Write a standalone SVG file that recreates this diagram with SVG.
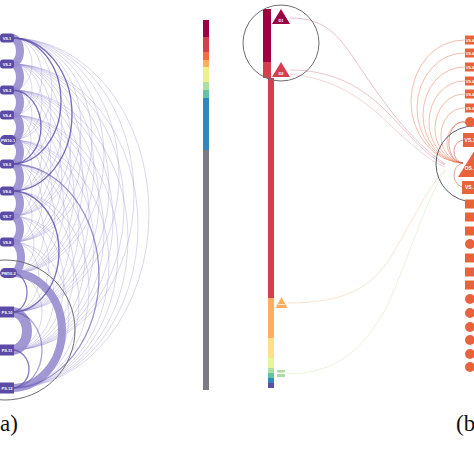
<svg xmlns="http://www.w3.org/2000/svg" width="474" height="474" viewBox="0 0 474 474">
<style>
.bg{fill:#fff}
.ln{fill:#5b4ba5}
.thin{fill:none;stroke:#8d84c8;stroke-opacity:.4;stroke-width:.8}
.thick{fill:none;stroke:#978dcf;stroke-opacity:.9;stroke-width:8}
.dark{fill:none;stroke:#5b4ba5;stroke-opacity:.75;stroke-width:1.3}
.lbl{font-family:"Liberation Sans",Arial,sans-serif;font-size:4px;font-weight:bold;fill:#fff;text-anchor:middle}
.lens{fill:none;stroke:#6e6e72;stroke-width:1}
.rn{fill:#e8633b}
.rarc{fill:none;stroke:#e98a6c;stroke-opacity:.7;stroke-width:.8}
.rdark{fill:none;stroke:#c84a3a;stroke-opacity:.6;stroke-width:.9}
.flow{fill:none;stroke-width:.9}
.cap{font-family:"Liberation Serif","Times New Roman",serif;font-size:23px;fill:#111}
</style>
<rect class="bg" width="474" height="474"/>

<g id="connectors">
 <g id="left-arcs-thin">
  <path class="thin" d="M12 38A10 13 0 0 1 12 64"/>
  <path class="thin" d="M12 38A20 26 0 0 1 12 90"/>
  <path class="thin" d="M12 38A30 38.5 0 0 1 12 115"/>
  <path class="thin" d="M12 38A40 51 0 0 1 12 140"/>
  <path class="thin" d="M12 38A49 63 0 0 1 12 164"/>
  <path class="thin" d="M12 38A60 76.5 0 0 1 12 191"/>
  <path class="thin" d="M12 38A69 89 0 0 1 12 216"/>
  <path class="thin" d="M12 38A80 102 0 0 1 12 242"/>
  <path class="thin" d="M12 38A92 117.5 0 0 1 12 273"/>
  <path class="thin" d="M12 38A107 137 0 0 1 12 312"/>
  <path class="thin" d="M12 38A122 156 0 0 1 12 350"/>
  <path class="thin" d="M12 38A137 175 0 0 1 12 388"/>
  <path class="thin" d="M12 64A10 13 0 0 1 12 90"/>
  <path class="thin" d="M12 64A20 25.5 0 0 1 12 115"/>
  <path class="thin" d="M12 64A30 38 0 0 1 12 140"/>
  <path class="thin" d="M12 64A39 50 0 0 1 12 164"/>
  <path class="thin" d="M12 64A50 63.5 0 0 1 12 191"/>
  <path class="thin" d="M12 64A59 76 0 0 1 12 216"/>
  <path class="thin" d="M12 64A69 89 0 0 1 12 242"/>
  <path class="thin" d="M12 64A82 104.5 0 0 1 12 273"/>
  <path class="thin" d="M12 64A97 124 0 0 1 12 312"/>
  <path class="thin" d="M12 64A112 143 0 0 1 12 350"/>
  <path class="thin" d="M12 64A126 162 0 0 1 12 388"/>
  <path class="thin" d="M12 90A10 12.5 0 0 1 12 115"/>
  <path class="thin" d="M12 90A20 25 0 0 1 12 140"/>
  <path class="thin" d="M12 90A29 37 0 0 1 12 164"/>
  <path class="thin" d="M12 90A39 50.5 0 0 1 12 191"/>
  <path class="thin" d="M12 90A49 63 0 0 1 12 216"/>
  <path class="thin" d="M12 90A59 76 0 0 1 12 242"/>
  <path class="thin" d="M12 90A71 91.5 0 0 1 12 273"/>
  <path class="thin" d="M12 90A87 111 0 0 1 12 312"/>
  <path class="thin" d="M12 90A101 130 0 0 1 12 350"/>
  <path class="thin" d="M12 90A116 149 0 0 1 12 388"/>
  <path class="thin" d="M12 115A10 12.5 0 0 1 12 140"/>
  <path class="thin" d="M12 115A19 24.5 0 0 1 12 164"/>
  <path class="thin" d="M12 115A30 38 0 0 1 12 191"/>
  <path class="thin" d="M12 115A39 50.5 0 0 1 12 216"/>
  <path class="thin" d="M12 115A50 63.5 0 0 1 12 242"/>
  <path class="thin" d="M12 115A62 79 0 0 1 12 273"/>
  <path class="thin" d="M12 115A77 98.5 0 0 1 12 312"/>
  <path class="thin" d="M12 115A92 117.5 0 0 1 12 350"/>
  <path class="thin" d="M12 115A106 136.5 0 0 1 12 388"/>
  <path class="thin" d="M12 140A9 12 0 0 1 12 164"/>
  <path class="thin" d="M12 140A20 25.5 0 0 1 12 191"/>
  <path class="thin" d="M12 140A30 38 0 0 1 12 216"/>
  <path class="thin" d="M12 140A40 51 0 0 1 12 242"/>
  <path class="thin" d="M12 140A52 66.5 0 0 1 12 273"/>
  <path class="thin" d="M12 140A67 86 0 0 1 12 312"/>
  <path class="thin" d="M12 140A82 105 0 0 1 12 350"/>
  <path class="thin" d="M12 140A97 124 0 0 1 12 388"/>
  <path class="thin" d="M12 164A11 13.5 0 0 1 12 191"/>
  <path class="thin" d="M12 164A20 26 0 0 1 12 216"/>
  <path class="thin" d="M12 164A30 39 0 0 1 12 242"/>
  <path class="thin" d="M12 164A43 54.5 0 0 1 12 273"/>
  <path class="thin" d="M12 164A58 74 0 0 1 12 312"/>
  <path class="thin" d="M12 164A73 93 0 0 1 12 350"/>
  <path class="thin" d="M12 164A87 112 0 0 1 12 388"/>
  <path class="thin" d="M12 191A10 12.5 0 0 1 12 216"/>
  <path class="thin" d="M12 191A20 25.5 0 0 1 12 242"/>
  <path class="thin" d="M12 191A32 41 0 0 1 12 273"/>
  <path class="thin" d="M12 191A47 60.5 0 0 1 12 312"/>
  <path class="thin" d="M12 191A62 79.5 0 0 1 12 350"/>
  <path class="thin" d="M12 191A77 98.5 0 0 1 12 388"/>
  <path class="thin" d="M12 216A10 13 0 0 1 12 242"/>
  <path class="thin" d="M12 216A22 28.5 0 0 1 12 273"/>
  <path class="thin" d="M12 216A37 48 0 0 1 12 312"/>
  <path class="thin" d="M12 216A52 67 0 0 1 12 350"/>
  <path class="thin" d="M12 216A67 86 0 0 1 12 388"/>
  <path class="thin" d="M12 242A12 15.5 0 0 1 12 273"/>
  <path class="thin" d="M12 242A27 35 0 0 1 12 312"/>
  <path class="thin" d="M12 242A42 54 0 0 1 12 350"/>
  <path class="thin" d="M12 242A57 73 0 0 1 12 388"/>
  <path class="thin" d="M12 273A30 38.5 0 0 1 12 350"/>
 </g>
 <g id="left-arcs-thick">
  <path class="thick" d="M12 38A8 13 0 0 1 12 64"/>
  <path class="thick" d="M12 64A8 13 0 0 1 12 90"/>
  <path class="thick" d="M12 90A8 12.5 0 0 1 12 115"/>
  <path class="thick" d="M12 115A8 12.5 0 0 1 12 140"/>
  <path class="thick" d="M12 140A8 12 0 0 1 12 164"/>
  <path class="thick" d="M12 164A8 13.5 0 0 1 12 191"/>
  <path class="thick" d="M12 191A8 12.5 0 0 1 12 216"/>
  <path class="thick" d="M12 216A8 13 0 0 1 12 242"/>
  <path class="thick" d="M12 242A9 15.5 0 0 1 12 273"/>
  <path class="thick" d="M12 312A15 19 0 0 1 12 350" style="stroke-width:10"/>
  <path class="thick" d="M12 273A50 57.5 0 0 1 12 388" style="stroke-width:8"/>
 </g>
 <g id="left-arcs-dark">
  <path class="dark" d="M12 38A49 63 0 0 1 12 164"/>
  <path class="dark" d="M12 38A60 76.5 0 0 1 12 191"/>
  <path class="dark" d="M12 90A29 37 0 0 1 12 164"/>
  <path class="dark" d="M12 191A47 60.5 0 0 1 12 312"/>
  <path class="dark" d="M12 164A87 112 0 0 1 12 388" style="stroke-opacity:.5"/>
  <path class="dark" d="M12 273A15 19.5 0 0 1 12 312"/>
  <path class="dark" d="M12 350A17 19 0 0 1 12 388"/>
  <path class="dark" d="M12 312A30 38 0 0 1 12 388" style="stroke-opacity:.5"/>
 </g>
 <g id="flows-b">
  <path class="flow" stroke="#c98595" stroke-opacity=".55" d="M290 18C325 18 338 35 355 60C385 105 410 140 445 164"/>
  <path class="flow" stroke="#d88a92" stroke-opacity=".55" d="M290 70C330 70 360 85 385 110C410 135 425 155 445 165"/>
  <path class="flow" stroke="#d88a92" stroke-opacity=".4" d="M290 74C330 78 360 95 390 125C412 145 428 160 445 167"/>
  <path class="flow" stroke="#f2c49a" stroke-opacity=".5" d="M288 303C350 303 375 285 395 250C415 215 430 185 445 170"/>
  <path class="flow" stroke="#cfe3b6" stroke-opacity=".5" d="M286 374C340 374 365 345 385 310C405 270 425 200 445 172"/>
 </g>
 <g id="right-arcs">
  <path class="rarc" d="M465 40A53 61.5 0 0 0 463 163"/>
  <path class="rarc" d="M465 53A47 55 0 0 0 463 163"/>
  <path class="rarc" d="M465 67A41 48 0 0 0 463 163"/>
  <path class="rarc" d="M465 81A35 41 0 0 0 463 163"/>
  <path class="rarc" d="M465 94A29 34.5 0 0 0 463 163"/>
  <path class="rarc" d="M465 108A23 27.5 0 0 0 463 163"/>
  <path class="rarc" d="M465 122A17 20.5 0 0 0 463 163"/>
  <path class="rdark" d="M465 140A10 11.5 0 0 0 463 163"/>
  <path class="rdark" d="M465 122A14 20.5 0 0 0 461 163"/>
  <path class="rdark" d="M463 163A10 12 0 0 0 465 187"/>
 </g>
</g>

<g id="lens-a"><circle class="lens" cx="5" cy="330" r="70"/></g>

<g id="left-nodes">
 <g id="VS1"><rect class="ln" x="0" y="33.5" width="14" height="9" rx="3"/><text class="lbl" x="7" y="39.5">VS.1</text></g>
 <g id="VS2"><rect class="ln" x="0" y="59.5" width="14" height="9" rx="3"/><text class="lbl" x="7" y="65.5">VS.2</text></g>
 <g id="VS3"><rect class="ln" x="0" y="85.5" width="14" height="9" rx="3"/><text class="lbl" x="7" y="91.5">VS.3</text></g>
 <g id="VS4"><rect class="ln" x="0" y="110.5" width="14" height="9" rx="3"/><text class="lbl" x="7" y="116.5">VS.4</text></g>
 <g id="PW101"><rect class="ln" x="0" y="135" width="16" height="10" rx="5"/><text class="lbl" x="8" y="141.5">PW10.1</text></g>
 <g id="VS5"><rect class="ln" x="0" y="159.5" width="14" height="9" rx="3"/><text class="lbl" x="7" y="165.5">VS.5</text></g>
 <g id="VS6"><rect class="ln" x="0" y="186.5" width="14" height="9" rx="3"/><text class="lbl" x="7" y="192.5">VS.6</text></g>
 <g id="VS7"><rect class="ln" x="0" y="211.5" width="14" height="9" rx="3"/><text class="lbl" x="7" y="217.5">VS.7</text></g>
 <g id="VS8"><rect class="ln" x="0" y="237.5" width="14" height="9" rx="3"/><text class="lbl" x="7" y="243.5">VS.8</text></g>
 <g id="PW102"><rect class="ln" x="0" y="268" width="17" height="10" rx="5"/><text class="lbl" x="8.5" y="274.5">PW10.2</text></g>
 <g id="PS10"><rect class="ln" x="0" y="306.5" width="14" height="11"/><text class="lbl" x="7" y="313.5">PS.10</text></g>
 <g id="PS11"><rect class="ln" x="0" y="344.5" width="14" height="11"/><text class="lbl" x="7" y="351.5">PS.11</text></g>
 <g id="PS12"><rect class="ln" x="0" y="382.5" width="14" height="11"/><text class="lbl" x="7" y="389.5">PS.12</text></g>
</g>

<g id="color-bar">
 <rect x="203" y="20" width="6" height="17" fill="#9e0142"/>
 <rect x="203" y="37" width="6" height="15" fill="#d53e4f"/>
 <rect x="203" y="52" width="6" height="8" fill="#f46d43"/>
 <rect x="203" y="60" width="6" height="7" fill="#fdae61"/>
 <rect x="203" y="67" width="6" height="15" fill="#eef08e"/>
 <rect x="203" y="82" width="6" height="8" fill="#abdda4"/>
 <rect x="203" y="90" width="6" height="8" fill="#66c2a5"/>
 <rect x="203" y="98" width="6" height="52" fill="#3288bd"/>
 <rect x="203" y="150" width="6" height="240" fill="#7b7c86"/>
</g>

<g id="bar-b">
 <rect x="263" y="9" width="8" height="53" fill="#9e0142"/>
 <rect x="263" y="62" width="8" height="16" fill="#d53e4f"/>
 <rect x="268" y="78" width="6" height="220" fill="#d53e4f"/>
 <rect x="268" y="298" width="6" height="40" fill="#fdae61"/>
 <rect x="268" y="338" width="6" height="20" fill="#fee08b"/>
 <rect x="268" y="358" width="6" height="10" fill="#e6f598"/>
 <rect x="268" y="368" width="6" height="5" fill="#abdda4"/>
 <rect x="268" y="373" width="6" height="5" fill="#66c2a5"/>
 <rect x="268" y="378" width="6" height="5" fill="#3288bd"/>
 <rect x="268" y="383" width="6" height="5" fill="#5e4fa2"/>
</g>
<g id="lens-b"><circle class="lens" cx="281" cy="43" r="38"/></g>
<g id="D1"><polygon points="281,9 290,24 272,24" fill="#9e0142"/><text class="lbl" x="281" y="22">D1</text></g>
<g id="D2"><polygon points="281,62 290,77 272,77" fill="#d53e4f"/><text class="lbl" x="281" y="75">D2</text></g>
<g id="D3"><polygon points="281.5,297 287.5,308 275.5,308" fill="#fdae61"/><rect x="278" y="304" width="7" height="1" fill="#fff" fill-opacity=".7"/></g>
<g id="D4"><rect x="277" y="370" width="8" height="2.5" fill="#abdda4"/><rect x="277" y="374" width="8" height="3" fill="#abdda4"/></g>

<g id="lens-c"><circle cx="474" cy="164" r="38" fill="none" stroke="#5a6070" stroke-width="1"/></g>

<g id="right-nodes">
 <g id="R1"><rect class="rn" x="465" y="35.5" width="10" height="9"/><text class="lbl" x="470" y="41.5">VS.4</text></g>
 <g id="R2"><rect class="rn" x="465" y="48.5" width="10" height="9"/><text class="lbl" x="470" y="54.5">VS.4</text></g>
 <g id="R3"><rect class="rn" x="465" y="62.5" width="10" height="9"/><text class="lbl" x="470" y="68.5">VS.4</text></g>
 <g id="R4"><rect class="rn" x="465" y="76.5" width="10" height="9"/><text class="lbl" x="470" y="82.5">VS.4</text></g>
 <g id="R5"><rect class="rn" x="465" y="89.5" width="10" height="9"/><text class="lbl" x="470" y="95.5">VS.4</text></g>
 <g id="R6"><rect class="rn" x="465" y="103.5" width="10" height="9"/><text class="lbl" x="470" y="109.5">VS.4</text></g>
 <g id="R7"><circle class="rn" cx="470" cy="122" r="5"/></g>
 <g id="R8"><rect class="rn" x="463" y="133" width="12" height="14"/><text class="lbl" x="470" y="142" style="font-size:5px">VS.1</text></g>
 <g id="R9"><polygon class="rn" points="476,148 494,177 458,177"/><text class="lbl" x="469" y="170" style="font-size:5px">OS.</text></g>
 <g id="R10"><rect class="rn" x="462" y="181" width="13" height="13"/><text class="lbl" x="469" y="189" style="font-size:5px">VS.</text></g>
 <g id="R11"><rect class="rn" x="465" y="199.5" width="10" height="9"/></g>
 <g id="R12"><rect class="rn" x="465" y="212.5" width="10" height="9"/></g>
 <g id="R13"><rect class="rn" x="465" y="226.5" width="10" height="9"/></g>
 <g id="R14"><circle class="rn" cx="470" cy="244" r="5"/></g>
 <g id="R15"><rect class="rn" x="465" y="253.5" width="10" height="9"/></g>
 <g id="R16"><rect class="rn" x="465" y="267.5" width="10" height="9"/></g>
 <g id="R17"><rect class="rn" x="465" y="280.5" width="10" height="9"/></g>
 <g id="R18"><circle class="rn" cx="470" cy="299" r="5"/></g>
 <g id="R19"><circle class="rn" cx="470" cy="313" r="5"/></g>
 <g id="R20"><circle class="rn" cx="470" cy="327" r="5"/></g>
 <g id="R21"><circle class="rn" cx="470" cy="340" r="5"/></g>
 <g id="R22"><circle class="rn" cx="470" cy="354" r="5"/></g>
 <g id="R23"><circle class="rn" cx="470" cy="367" r="5"/></g>
</g>

<text class="cap" x="0" y="431">a)</text>
<text class="cap" x="456" y="431">(b</text>
</svg>
